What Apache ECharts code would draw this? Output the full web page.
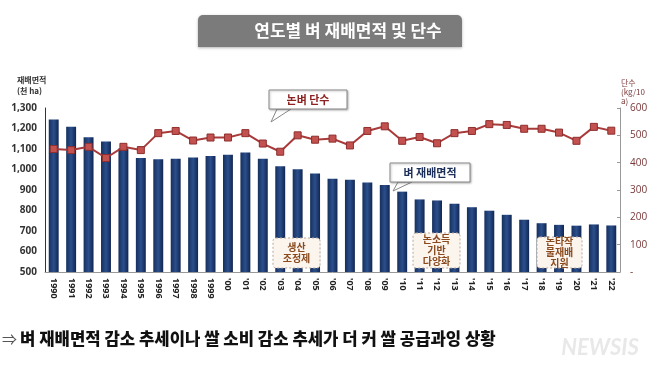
<!DOCTYPE html>
<html>
<head>
<meta charset="utf-8">
<script src="https://cdn.jsdelivr.net/npm/echarts@6/dist/echarts.min.js"></script>
<style>
  html, body { margin: 0; padding: 0; background: #fff; }
  #chart { width: 658px; height: 375px; }
</style>
</head>
<body>
<div id="chart"></div>
<script>
// 연도 라벨
const years = ['1990', '1991', '1992', '1993', '1994', '1995', '1996', '1997', '1998', '1999',
  "'00", "'01", "'02", "'03", "'04", "'05", "'06", "'07", "'08", "'09", "'10",
  "'11", "'12", "'13", "'14", "'15", "'16", "'17", "'18", "'19", "'20", "'21", "'22"]
// 벼 재배면적 (천 ha)
const areaData = [1244, 1208, 1157, 1136, 1103, 1056, 1050, 1052, 1059, 1066,
  1072, 1083, 1053, 1016, 1001, 980, 955, 950, 936, 924, 892,
  854, 849, 833, 816, 799, 779, 755, 738, 730, 726, 732, 727]
// 논벼 단수 (kg/10a)
const yieldData = [450, 446, 458, 417, 458, 446, 508, 516, 481, 492,
  492, 508, 470, 440, 500, 484, 488, 463, 516, 533, 480,
  494, 471, 508, 516, 541, 538, 524, 524, 510, 480, 531, 517]

const chart = echarts.init(document.getElementById('chart'))
const KR = '"Noto Sans CJK KR", sans-serif'

// 점선 상자 (정책 설명)
function noteBox(x, y, w, h, lines) {
  return {
    type: 'group',
    z: 100,
    children: [
      {
        type: 'rect',
        z: 100,
        shape: { x: x, y: y, width: w, height: h, r: 3 },
        style: { fill: '#fbf5ee', stroke: '#b9a99a', lineWidth: 1, lineDash: [2, 2] }
      },
      {
        type: 'text',
        z: 101,
        x: x + w / 2,
        y: y + h / 2,
        style: {
          text: lines.join('\n'),
          font: 'bold 10px ' + KR,
          fill: '#8a4a1e',
          align: 'center',
          verticalAlign: 'middle',
          lineHeight: 11
        }
      }
    ]
  }
}

// 말풍선 (범례)
function callout(x, y, w, h, tipX, tipY, text, color) {
  return {
    type: 'group',
    z: 100,
    children: [
      {
        type: 'polygon',
        z: 100,
        shape: { points: [[x + 8, y + h], [tipX, tipY], [x + 22, y + h]] },
        style: { fill: '#fff', stroke: '#888', lineWidth: 1 }
      },
      {
        type: 'rect',
        z: 101,
        shape: { x: x, y: y, width: w, height: h },
        style: { fill: '#fff', stroke: '#888', lineWidth: 1, shadowBlur: 2, shadowColor: 'rgba(0,0,0,0.25)', shadowOffsetX: 1, shadowOffsetY: 1 }
      },
      {
        type: 'text',
        z: 102,
        x: x + w / 2,
        y: y + h / 2,
        style: { text: text, font: 'bold 11px ' + KR, fill: color, align: 'center', verticalAlign: 'middle' }
      }
    ]
  }
}

chart.setOption({
  animation: false,
  grid: { left: 45, right: 38, top: 108, bottom: 103 },
  xAxis: {
    type: 'category',
    data: years,
    axisLine: { lineStyle: { color: '#999' } },
    axisTick: { show: false },
    axisLabel: {
      rotate: -90,
      interval: 0,
      color: '#222',
      fontWeight: 'bold',
      fontSize: 9,
      fontFamily: 'Open Sans',
      margin: 6
    }
  },
  yAxis: [
    {
      type: 'value',
      min: 500,
      max: 1300,
      interval: 100,
      splitLine: { show: false },
      axisLine: { show: true, lineStyle: { color: '#333' } },
      axisTick: { show: false },
      axisLabel: {
        color: '#333',
        fontSize: 10,
        fontWeight: 'bold',
        fontFamily: 'Open Sans',
        margin: 8,
        formatter: v => v.toLocaleString('en-US')
      }
    },
    {
      type: 'value',
      min: 0,
      max: 600,
      interval: 100,
      position: 'right',
      splitLine: { show: false },
      axisLine: { show: true, lineStyle: { color: '#999' } },
      axisTick: { show: true, inside: true, length: 3, lineStyle: { color: '#999' } },
      axisLabel: {
        color: '#7a3838',
        fontSize: 10,
        fontFamily: 'Open Sans',
        margin: 10,
        formatter: v => (v === 0 ? '-' : v)
      }
    }
  ],
  series: [
    {
      name: '벼 재배면적',
      type: 'bar',
      data: areaData,
      barWidth: '57%',
      itemStyle: {
        color: new echarts.graphic.LinearGradient(0, 0, 1, 0, [
          { offset: 0, color: '#16305e' },
          { offset: 0.5, color: '#2b4f8c' },
          { offset: 1, color: '#112652' }
        ])
      }
    },
    {
      name: '논벼 단수',
      type: 'line',
      yAxisIndex: 1,
      data: yieldData,
      symbol: 'rect',
      symbolSize: 7,
      z: 5,
      lineStyle: { color: '#a83b3a', width: 2 },
      itemStyle: { color: '#c2514f', borderColor: '#8e2e2d', borderWidth: 1 }
    }
  ],
  graphic: [
    // 제목
    {
      type: 'group',
      children: [
        {
          type: 'rect',
          shape: { x: 198, y: 15, width: 264, height: 32, r: [5, 5, 0, 0] },
          style: { fill: '#7b7b7b', shadowBlur: 3, shadowColor: 'rgba(0,0,0,0.3)', shadowOffsetY: 1 }
        },
        {
          type: 'text',
          x: 348,
          y: 31,
          style: { text: '연도별 벼 재배면적 및 단수', font: 'bold 17px ' + KR, fill: '#fff', align: 'center', verticalAlign: 'middle' }
        }
      ]
    },
    // 축 이름
    {
      type: 'text',
      x: 17,
      y: 74,
      style: { text: '재배면적\n(천 ha)', font: 'bold 8px ' + KR, fill: '#333', lineHeight: 11 }
    },
    {
      type: 'text',
      x: 621,
      y: 78,
      style: { text: '단수\n(kg/10\na)', font: '8px ' + KR, fill: '#7a3838', lineHeight: 9 }
    },
    callout(269, 90, 78, 19, 271, 122, '논벼 단수', '#8e2323'),
    callout(390, 163, 80, 19, 393, 191, '벼 재배면적', '#1c2f5a'),
    noteBox(273, 238, 47, 30, ['생산', '조정제']),
    noteBox(413, 233, 47, 35, ['논소득', '기반', '다양화']),
    noteBox(537, 237, 45, 31, ['논타작', '물재배', '지원']),
    // 하단 설명
    {
      type: 'text',
      x: 2,
      y: 339,
      style: { text: '⇒', font: '15px ' + KR, fill: '#555', verticalAlign: 'middle' }
    },
    {
      type: 'text',
      x: 20,
      y: 339,
      style: { text: '벼 재배면적 감소 추세이나 쌀 소비 감소 추세가 더 커 쌀 공급과잉 상황', font: '900 16.7px ' + KR, fill: '#111', verticalAlign: 'middle' }
    },
    {
      type: 'text',
      x: 600,
      y: 348,
      style: { text: 'NEWSIS', font: 'italic bold 22px Lato', fill: 'rgba(190,190,190,0.35)', align: 'center', verticalAlign: 'middle' }
    }
  ]
})
</script>
</body>
</html>
